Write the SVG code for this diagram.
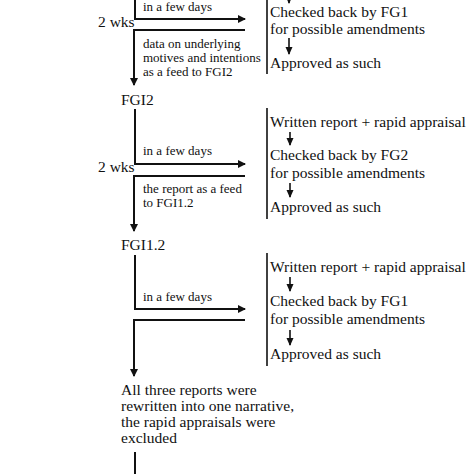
<svg xmlns="http://www.w3.org/2000/svg" width="474" height="474" viewBox="0 0 474 474">
<style>
text{font-family:"Liberation Serif","DejaVu Serif",serif;fill:#111}
.b{font-size:15.5px}
.s{font-size:13px}
.ln{stroke:#111;stroke-width:2;fill:none}
.th{stroke:#111;stroke-width:1.6;fill:none}
</style>
<defs>
<marker id="ah" markerWidth="8" markerHeight="8" refX="7" refY="4" orient="auto" markerUnits="userSpaceOnUse">
<path d="M0,0 L8,4 L0,8 Z" fill="#111"/>
</marker>
<marker id="as" markerWidth="8" markerHeight="8" refX="7" refY="4" orient="auto" markerUnits="userSpaceOnUse">
<path d="M0,0.5 L8,4 L0,7.5 Z" fill="#111"/>
</marker>
</defs>
<rect width="474" height="474" fill="#fff"/>
<g id="connectors">
<path class="ln" d="M135,0 V19 H245" marker-end="url(#ah)"/>
<path class="ln" d="M245,30 H134 V85" marker-end="url(#ah)"/>
<path class="ln" d="M135,109 V164 H245" marker-end="url(#ah)"/>
<path class="ln" d="M245,176 H134 V231" marker-end="url(#ah)"/>
<path class="ln" d="M135,255 V309 H245" marker-end="url(#ah)"/>
<path class="ln" d="M245,320 H134 V376" marker-end="url(#ah)"/>
<path class="ln" d="M135,452 V474"/>
<path class="th" d="M289,-4 V3" marker-end="url(#as)"/>
<path class="th" d="M289,38 V54" marker-end="url(#as)"/>
<path class="th" d="M290,132 V145" marker-end="url(#as)"/>
<path class="th" d="M290,183 V197" marker-end="url(#as)"/>
<path class="th" d="M290,277 V291" marker-end="url(#as)"/>
<path class="th" d="M290,330 V345" marker-end="url(#as)"/>
</g>
<g id="edge-labels">
<text class="s" x="143" y="11">in a few days</text>
<text class="b" x="98" y="27">2 wks</text>
<text class="s" x="143" y="48">data on underlying</text>
<text class="s" x="143" y="62">motives and intentions</text>
<text class="s" x="143" y="76">as a feed to FGI2</text>
<text class="s" x="143" y="155">in a few days</text>
<text class="b" x="98" y="172">2 wks</text>
<text class="s" x="143" y="193">the report as a feed</text>
<text class="s" x="143" y="207">to FGI1.2</text>
<text class="s" x="143" y="301">in a few days</text>
</g>
<g id="node-fgi1">
<path class="th" d="M267,0 V74"/>
<text class="b" x="270" y="17">Checked back by FG1</text>
<text class="b" x="270" y="34">for possible amendments</text>
<text class="b" x="270" y="68">Approved as such</text>
</g>
<g id="node-fgi2-label"><text class="b" x="121" y="105">FGI2</text></g>
<g id="node-fgi2">
<path class="th" d="M267,108 V219"/>
<text class="b" x="270" y="127">Written report + rapid appraisal</text>
<text class="b" x="270" y="160">Checked back by FG2</text>
<text class="b" x="270" y="178">for possible amendments</text>
<text class="b" x="270" y="212">Approved as such</text>
</g>
<g id="node-fgi12-label"><text class="b" x="121" y="250">FGI1.2</text></g>
<g id="node-fgi12">
<path class="th" d="M267,253 V366"/>
<text class="b" x="270" y="272">Written report + rapid appraisal</text>
<text class="b" x="270" y="306">Checked back by FG1</text>
<text class="b" x="270" y="324">for possible amendments</text>
<text class="b" x="270" y="359">Approved as such</text>
</g>
<g id="node-final">
<text class="b" x="121" y="395">All three reports were</text>
<text class="b" x="121" y="411">rewritten into one narrative,</text>
<text class="b" x="121" y="427">the rapid appraisals were</text>
<text class="b" x="121" y="443">excluded</text>
</g>
</svg>
